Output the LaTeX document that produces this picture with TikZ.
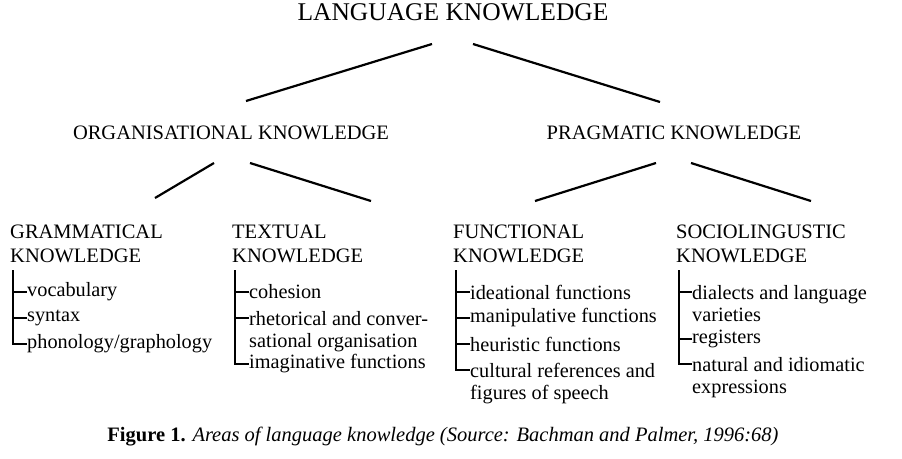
\documentclass[tikz,border=0pt]{standalone}
\usepackage{fontspec}
\setmainfont{Liberation Serif}
\begin{document}
\begin{tikzpicture}[x=1pt,y=-1pt,
  big/.style={font=\fontsize{25.5}{28}\selectfont,inner sep=0},
  mid/.style={font=\fontsize{20.5}{22}\selectfont,inner sep=0},
  head/.style={font=\fontsize{20.5}{24}\selectfont,inner sep=0,anchor=north west,align=left},
  item/.style={font=\fontsize{20.3}{22}\selectfont,inner sep=0,anchor=west,align=left},
  tree/.style={line width=2.2pt},
  br/.style={line width=2.6pt}]
\useasboundingbox (0,0) rectangle (902,458);
\node[big] (top) at (453,12) {LANGUAGE KNOWLEDGE};
\node[mid] (org) at (231,133) {ORGANISATIONAL KNOWLEDGE};
\node[mid] (prag) at (674,133) {PRAGMATIC KNOWLEDGE};
\coordinate (t1) at (432,44); \coordinate (t2) at (473,44);
\coordinate (o1) at (246,101); \coordinate (p1) at (660,102);
\draw[tree] (t1) -- (o1); \draw[tree] (t2) -- (p1);
\coordinate (a1) at (214,163); \coordinate (a2) at (155,198);
\coordinate (b1) at (250,163); \coordinate (b2) at (371,201);
\coordinate (c1) at (656,163); \coordinate (c2) at (535,201);
\coordinate (d1) at (691,163); \coordinate (d2) at (811,201);
\draw[tree] (a1)--(a2); \draw[tree] (b1)--(b2); \draw[tree] (c1)--(c2); \draw[tree] (d1)--(d2);

\node[head] (g) at (10,225) {GRAMMATICAL\\KNOWLEDGE};
\node[head] (t) at (232,225) {TEXTUAL\\KNOWLEDGE};
\node[head] (f) at (453,225) {FUNCTIONAL\\KNOWLEDGE};
\node[head] (s) at (676,225) {SOCIOLINGUSTIC\\KNOWLEDGE};

\node[item] (g1) at (27,292) {vocabulary};
\node[item] (g2) at (27,318) {syntax};
\node[item] (g3) at (27,344) {phonology/graphology};
\node[item] (t1i) at (249,292) {cohesion};
\node[item,anchor=north west] (t2i) at (249,311) {rhetorical and conver-\\sational organisation};
\node[item] (t3i) at (249,364) {imaginative functions};
\node[item] (f1) at (470,292) {ideational functions};
\node[item] (f2) at (470,318) {manipulative functions};
\node[item] (f3) at (470,344) {heuristic functions};
\node[item,anchor=north west] (f4) at (470,363) {cultural references and\\figures of speech};
\node[item,anchor=north west] (s1) at (692,285) {dialects and language\\varieties};
\node[item] (s2) at (692,339) {registers};
\node[item,anchor=north west] (s3) at (692,357) {natural and idiomatic\\expressions};

\draw[br] (13,270) |- (g3.west);
\draw[br] (13,292) -- (g1.west); \draw[br] (13,318) -- (g2.west);
\draw[br] (235,270) |- (t3i.west);
\draw[br] (235,292) -- (t1i.west); \draw[br] (235,318) -- (249,318);
\draw[br] (456,270) -- (456,370) -- (470,370);
\draw[br] (456,292) -- (f1.west); \draw[br] (456,318) -- (f2.west); \draw[br] (456,344) -- (f3.west);
\draw[br] (679,270) -- (679,364) -- (692,364);
\draw[br] (679,292) -- (692,292); \draw[br] (679,339) -- (s2.west);

\node[font=\fontsize{20.5}{22}\selectfont,inner sep=0] (cap) at (443,437) {\textbf{Figure 1.} \textit{Areas of language knowledge (Source: Bachman and Palmer, 1996:68)}};
\end{tikzpicture}
\end{document}
